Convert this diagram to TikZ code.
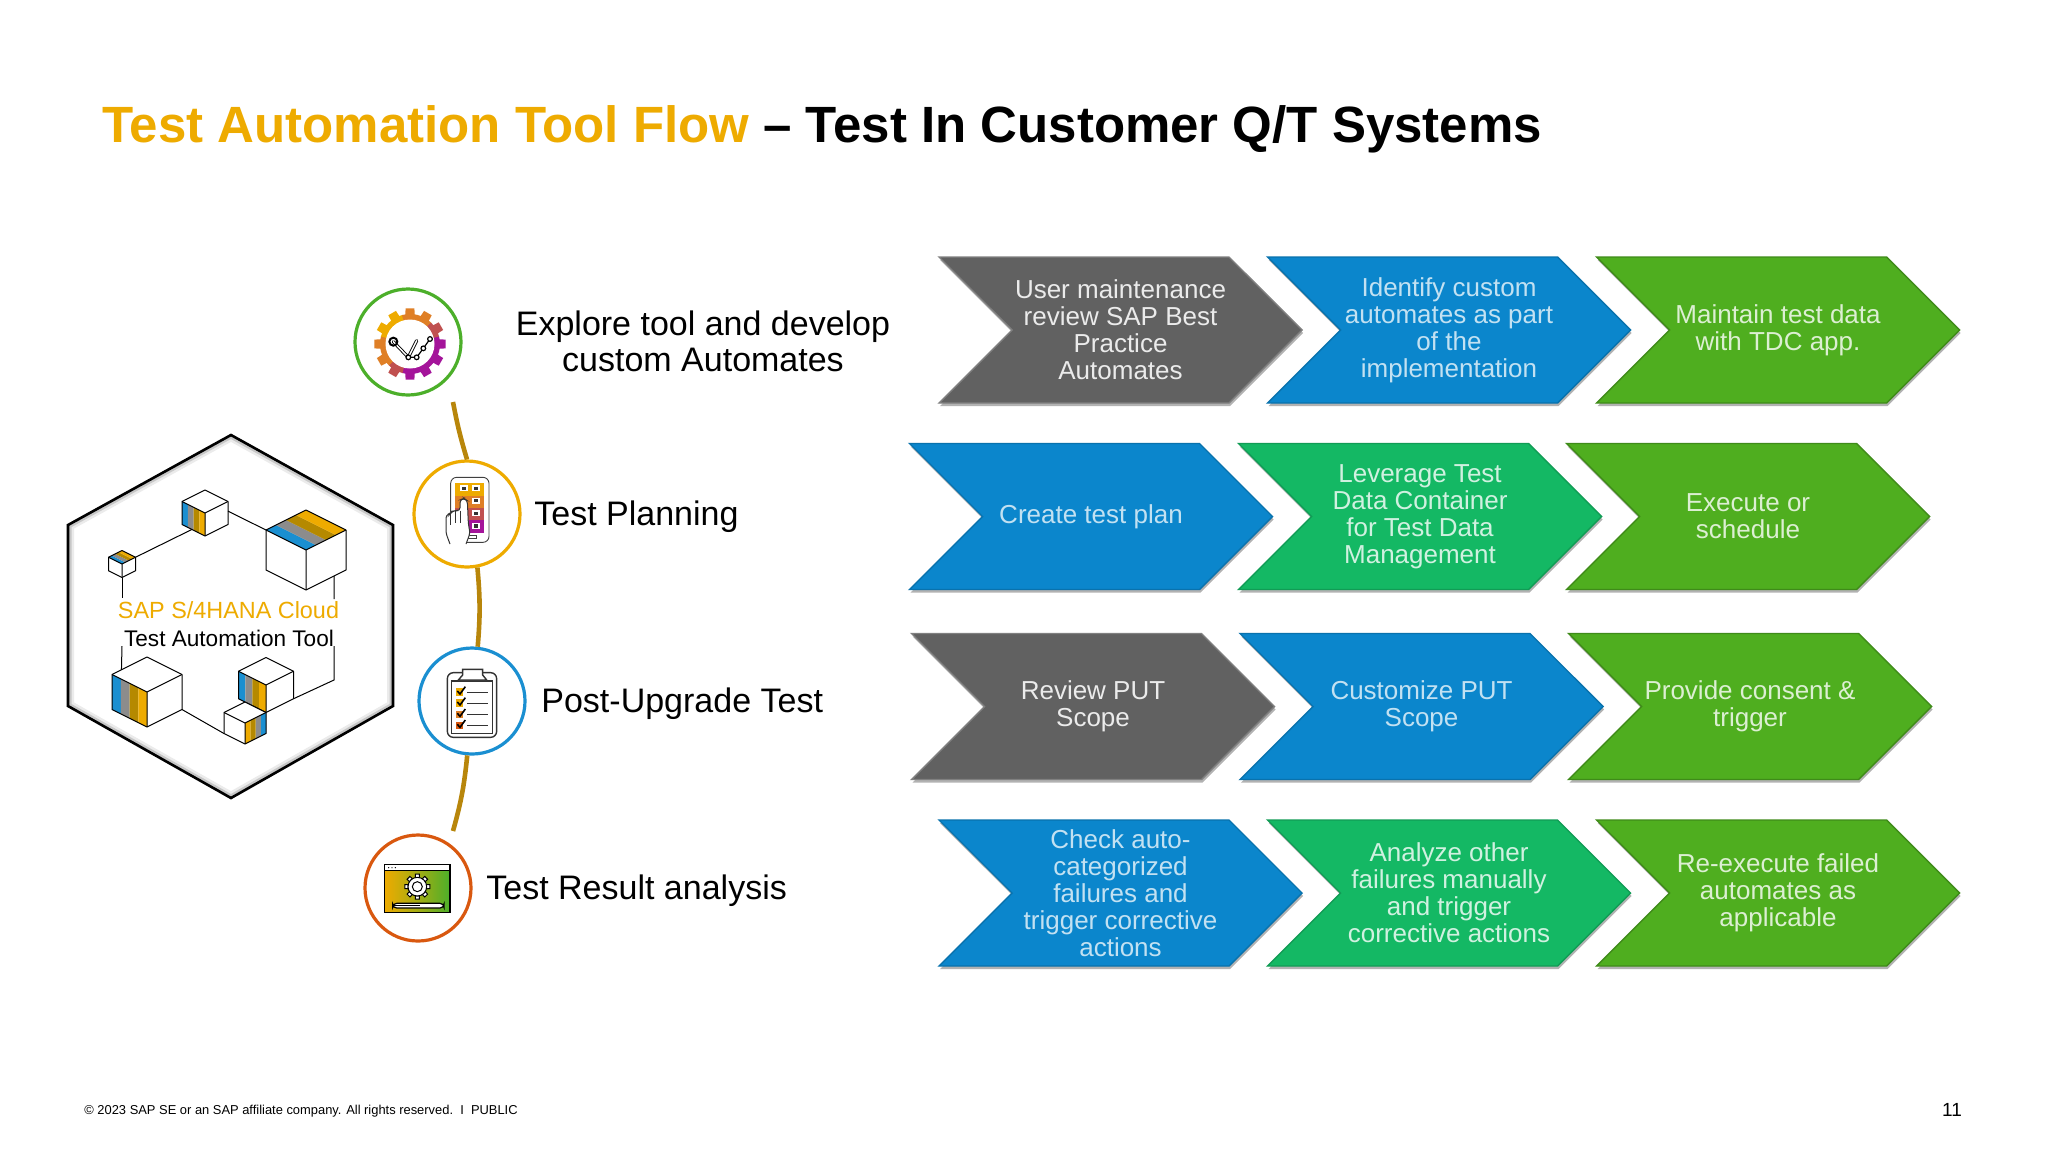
\documentclass[tikz,border=0pt]{standalone}
\usepackage{fontspec}
\setmainfont{Liberation Sans}
\usetikzlibrary{shapes.symbols,shadows,calc}
\definecolor{sapgold}{HTML}{EEAB00}
\definecolor{sapdark}{HTML}{B58900}
\definecolor{sapgray}{HTML}{8C8C8C}
\definecolor{sapblue}{HTML}{1A8FD1}
\definecolor{sapgreen}{HTML}{4CAF2A}
\definecolor{saporange}{HTML}{D9580F}
\definecolor{gearorange}{HTML}{DF7F26}
\definecolor{gearmauve}{HTML}{C0504F}
\definecolor{gearpurple}{HTML}{A4149A}
\definecolor{trailgold}{HTML}{B8860B}
\definecolor{HTMLblue}{HTML}{0B86CC}
\definecolor{HTMLmint}{HTML}{14B864}
\definecolor{HTMLgreen}{HTML}{4FAE1F}
\tikzset{
	chev/.style={signal,signal to=east,signal from=west,signal pointer angle=90,
		minimum width=181.5pt,minimum height=73pt,inner sep=0pt,align=center,line width=.7pt,
		font=\fontsize{13}{13.5}\selectfont,
		drop shadow={shadow xshift=.5pt,shadow yshift=-1.5pt,opacity=.3,fill=black}},
	chevgray/.style={chev,fill=black!62,draw=black!50,text=white!92!black},
	chevblue/.style={chev,fill=HTMLblue,draw=HTMLblue!85!black,text=HTMLblue!25!white},
	chevmint/.style={chev,fill=HTMLmint,draw=HTMLmint!85!black,text=HTMLmint!20!white},
	chevgreen/.style={chev,fill=HTMLgreen,draw=HTMLgreen!80!black,text=HTMLgreen!20!white},
	stepring/.style={circle,draw=#1,line width=1.6pt,minimum size=53pt,inner sep=0pt,fill=white},
	steptext/.style={font=\fontsize{17}{18}\selectfont,inner sep=0pt,align=center},
	trail/.style={draw=trailgold,line width=2.3pt},
	wire/.style={draw=black,line width=.5pt},
	thinline/.style={draw=black!75,line width=.45pt}
}
\newcommand{\cubeface}[4]{
	\foreach \col [count=\i from 0] in {sapblue,sapgray,sapdark,sapgold}{
		\pgfmathsetmacro{\fa}{\i/4}
		\pgfmathsetmacro{\fb}{(\i+1)/4}
		\fill[\col] ($(#1)!\fa!(#2)$) -- ($(#1)!\fb!(#2)$) -- ($(#3)!\fb!(#4)$) -- ($(#3)!\fa!(#4)$) -- cycle;
	}
}
\newcommand{\isocube}[5]{
	\coordinate (#1-c) at (#2,#3);
	\coordinate (#1-t) at ($(#1-c)+(0,-#4)$);
	\coordinate (#1-b) at ($(#1-c)+(0,#4)$);
	\coordinate (#1-ru) at ($(#1-c)+(#4,-#4/2)$);
	\coordinate (#1-rd) at ($(#1-c)+(#4,#4/2)$);
	\coordinate (#1-lu) at ($(#1-c)+(-#4,-#4/2)$);
	\coordinate (#1-ld) at ($(#1-c)+(-#4,#4/2)$);
	\fill[white] (#1-t) -- (#1-ru) -- (#1-rd) -- (#1-b) -- (#1-ld) -- (#1-lu) -- cycle;
	#5
	\draw[wire,line join=round] (#1-t) -- (#1-ru) -- (#1-rd) -- (#1-b) -- (#1-ld) -- (#1-lu) -- cycle;
	\draw[wire] (#1-lu) -- (#1-c) -- (#1-ru) (#1-c) -- (#1-b);
}
\begin{document}
\begin{tikzpicture}[x=.5pt,y=-.5pt]
	\useasboundingbox[fill=white] (0,0) rectangle (2048,1152);

	\node[anchor=base west,inner sep=0pt,font=\bfseries\fontsize{25.5}{28}\selectfont] (pageTitle) at (102,142.5) {\textcolor{sapgold}{Test Automation Tool Flow} – Test In Customer Q/T Systems};

	% hexagon
	\begin{scope}
		\clip (231,435) -- (393,525) -- (393,706) -- (231,798) -- (68,706) -- (68,525) -- cycle;
		\draw[black!8,line width=6pt] (231,435) -- (393,525) -- (393,706) -- (231,798) -- (68,706) -- (68,525) -- cycle;
		\draw[black!22,line width=3.5pt] (231,435) -- (393,525) -- (393,706) -- (231,798) -- (68,706) -- (68,525) -- cycle;
	\end{scope}
	\draw[black,line width=1.3pt,line join=miter] (231,435) -- (393,525) -- (393,706) -- (231,798) -- (68,706) -- (68,525) -- cycle;

	\isocube{cubeTiny}{122}{564}{13.5}{\cubeface{cubeTiny-lu}{cubeTiny-t}{cubeTiny-c}{cubeTiny-ru}}
	\isocube{cubeMid}{205}{513}{23}{\cubeface{cubeMid-lu}{cubeMid-c}{cubeMid-ld}{cubeMid-b}}
	\isocube{cubeBig}{306}{550}{40}{\cubeface{cubeBig-lu}{cubeBig-t}{cubeBig-c}{cubeBig-ru}}
	\isocube{cubeLeft}{147}{692}{35}{\cubeface{cubeLeft-lu}{cubeLeft-c}{cubeLeft-ld}{cubeLeft-b}}
	\isocube{cubeBack}{266}{685}{27.5}{\cubeface{cubeBack-lu}{cubeBack-c}{cubeBack-ld}{cubeBack-b}}
	\isocube{cubeFront}{245}{723}{21}{\cubeface{cubeFront-ru}{cubeFront-c}{cubeFront-rd}{cubeFront-b}}

	\node[inner sep=0pt,font=\fontsize{11.7}{12}\selectfont,text=sapgold] (hexCloud) at (228.5,610) {SAP S/4HANA Cloud};
	\node[inner sep=0pt,font=\fontsize{11.3}{12}\selectfont] (hexTool) at (229,638) {Test Automation Tool};

	\coordinate (wireA) at (122,598);
	\coordinate (wireB) at (122,646);
	\coordinate (wireC) at (334,599);
	\coordinate (wireD) at (334,646);
	\coordinate (wireE) at (334,680);
	\draw[wire] (cubeTiny-ru) -- ($(cubeMid-ld)!.43!(cubeMid-b)$);
	\draw[wire] ($(cubeMid-ru)!.42!(cubeMid-rd)$) -- (cubeBig-lu);
	\draw[wire] (cubeTiny-b) -- (wireA);
	\draw[wire] (wireB) -- ($(cubeLeft-lu)!.27!(cubeLeft-t)$);
	\draw[wire] ($(cubeBig-b)!.7!(cubeBig-rd)$) -- (wireC);
	\draw[wire] (wireD) -- (wireE) -- (cubeBack-rd);
	\draw[wire] (cubeLeft-rd) -- (cubeFront-ld);

	% steps
	\node[stepring=sapgreen] (stepExplore) at (408,342) {};
	\node[stepring=sapgold] (stepPlan) at (467,514) {};
	\node[stepring=sapblue] (stepPut) at (472,701) {};
	\node[stepring=saporange] (stepResult) at (418,888) {};

	\coordinate (trailTop) at (453,402);
	\coordinate (trailEnd) at (453,831);
	\draw[trail] (trailTop) to[bend right=3] (stepPlan.north);
	\draw[trail] (stepPlan.-79) to[bend left=5] (stepPut.84);
	\draw[trail] (stepPut.-95) to[bend left=5] (trailEnd);

	\node[steptext] (textExplore) at (703,341) {Explore tool and develop\\custom Automates};
	\node[steptext,anchor=west] (textPlan) at (534,516.5) {Test Planning};
	\node[steptext,anchor=west] (textPut) at (541,703.5) {Post-Upgrade Test};
	\node[steptext,anchor=west] (textResult) at (486,890.5) {Test Result analysis};

	% gear icon
	\begin{scope}[shift={(410,344)}]
		\foreach \a/\col in {0/gearpurple,30/gearpurple,60/gearpurple,90/gearpurple,120/gearmauve,150/gearorange,180/gearorange,210/sapgold,240/sapgold,270/gearorange,300/gearorange,330/gearmauve}{
			\fill[\col] (\a-15.5:24) -- (\a-15.5:30) -- (\a-9:30) -- (\a-7:36) -- (\a+7:36) -- (\a+9:30) -- (\a+15.5:30) -- (\a+15.5:24) -- cycle;
		}
		\fill[white] (0,0) circle (24.5);
	\end{scope}
	\begin{scope}[shift={(340,270)},scale=1/3]
		\draw[black,line width=1.6pt,line cap=round] (160,215) -- (205,262) -- (230,212);
		\draw[white,line width=.7pt,line cap=round] (160,215) -- (205,262) -- (230,212);
		\draw[black,line width=1pt] (160,215) circle (12);
		\draw[black,line width=.6pt] (205,262) -- (230,262) -- (250,235) -- (270,207);
		\foreach \p in {(205,262),(230,262),(250,235),(270,207)}{
			\filldraw[fill=white,draw=black,line width=.6pt] \p circle (7);
		}
	\end{scope}

	% phone icon
	\begin{scope}[shift={(340,270)},scale=1/3]
		\draw[thinline,rounded corners=3pt,fill=white] (332,622) rectangle (447,817);
		\fill[sapgold] (345,640) rectangle (433,678);
		\fill[gearorange] (345,678) rectangle (433,715);
		\fill[gearmauve] (345,715) rectangle (433,750);
		\fill[gearpurple] (345,750) rectangle (433,788);
		\foreach \p in {(372,655),(408,655),(408,692),(408,730),(408,768)}{
			\fill[white] \p ++(-11,-9) rectangle ++(22,18);
			\fill[black!80] \p ++(-5,-5) rectangle ++(10,10);
		}
		\draw[thinline] (385,795) rectangle (408,805);
		\filldraw[fill=white,draw=black!80,line width=.5pt,rounded corners=1.5pt] (330,822) -- (318,790) -- (318,735) -- (332,730) -- (336,724) -- (346,722) -- (360,722) -- (360,690) -- (372,685) -- (382,692) -- (385,760) -- (390,790) -- (378,822);
		\draw[black!80,line width=.4pt] (332,730) -- (332,765) (346,722) -- (346,760) (360,722) -- (360,760);
	\end{scope}

	% clipboard icon
	\begin{scope}[shift={(340,620)},scale=1/3]
		\draw[black!80,line width=.7pt,rounded corners=3pt,fill=white] (322,158) rectangle (470,352);
		\draw[black!80,line width=.7pt] (335,183) rectangle (458,340);
		\filldraw[fill=white,draw=black!80,line width=.7pt] (355,180) -- (368,165) -- (368,148) -- (428,148) -- (428,165) -- (440,180) -- cycle;
		\foreach \y/\col in {205/sapgold,238/sapgold,272/gearorange,305/saporange}{
			\fill[\col] (349,\y) rectangle (370,\y+22);
			\draw[black,line width=.8pt] (352,\y+8) -- (360,\y+17) -- (376,\y-5);
			\draw[black!80,line width=.7pt] (381,\y+12) -- (443,\y+12);
		}
	\end{scope}

	% window icon
	\begin{scope}[shift={(340,620)},scale=1/3]
		\shade[left color=sapgold,right color=sapgreen,middle color=sapgold!55!sapgreen] (133,733) rectangle (330,878);
		\draw[black,line width=.8pt] (133,733) rectangle (330,878);
		\fill[white] (136,736) rectangle (327,750);
		\draw[black,line width=.5pt] (133,750) -- (330,750);
		\foreach \x in {146,156,166}{
			\fill[black] (\x,743) circle (2);
		}
		\foreach \a in {0,45,...,315}{
			\filldraw[fill=white,draw=black,line width=.5pt,shift={(232,800)}] (\a-13:28) -- (\a-9:38) -- (\a+9:38) -- (\a+13:28) -- cycle;
		}
		\filldraw[fill=white,draw=black,line width=.5pt] (232,800) circle (28);
		\filldraw[fill=white,draw=black,line width=.5pt] (232,800) circle (15);
		\filldraw[fill=white,draw=black,line width=.6pt,rounded corners=2pt] (158,850) rectangle (312,864);
		\fill[black] (163,855) rectangle (240,859);
	\end{scope}

	% row one
	\node[chevgray] (rowOneA) at (1120.5,330) {User maintenance\\review SAP Best\\Practice\\Automates};
	\node[chevblue] (rowOneB) at (1449,330) {Identify custom\\automates as part\\of the\\implementation};
	\node[chevgreen] (rowOneC) at (1778,330) {Maintain test data\\with TDC app.};
	% row two
	\node[chevblue] (rowTwoA) at (1091,516.5) {Create test plan};
	\node[chevmint] (rowTwoB) at (1420,516.5) {Leverage Test\\Data Container\\for Test Data\\Management};
	\node[chevgreen] (rowTwoC) at (1748,516.5) {Execute or\\schedule};
	% row three
	\node[chevgray] (rowThreeA) at (1093,706.5) {Review PUT\\Scope};
	\node[chevblue] (rowThreeB) at (1421.5,706.5) {Customize PUT\\Scope};
	\node[chevgreen] (rowThreeC) at (1750,706.5) {Provide consent \&\\trigger};
	% row four
	\node[chevblue] (rowFourA) at (1120.5,893) {Check auto-\\categorized\\failures and\\trigger corrective\\actions};
	\node[chevmint] (rowFourB) at (1449,893) {Analyze other\\failures manually\\and trigger\\corrective actions};
	\node[chevgreen] (rowFourC) at (1778,893) {Re-execute failed\\automates as\\applicable};

	\node[anchor=west,inner sep=0pt,font=\fontsize{6.45}{7}\selectfont] (footNote) at (84,1111) {\textcopyright{} 2023 SAP SE or an SAP affiliate company. All rights reserved.\ \ I\ \ PUBLIC};
	\node[inner sep=0pt,font=\fontsize{9.5}{10}\selectfont] (pageNumber) at (1952,1110) {11};
\end{tikzpicture}
\end{document}
